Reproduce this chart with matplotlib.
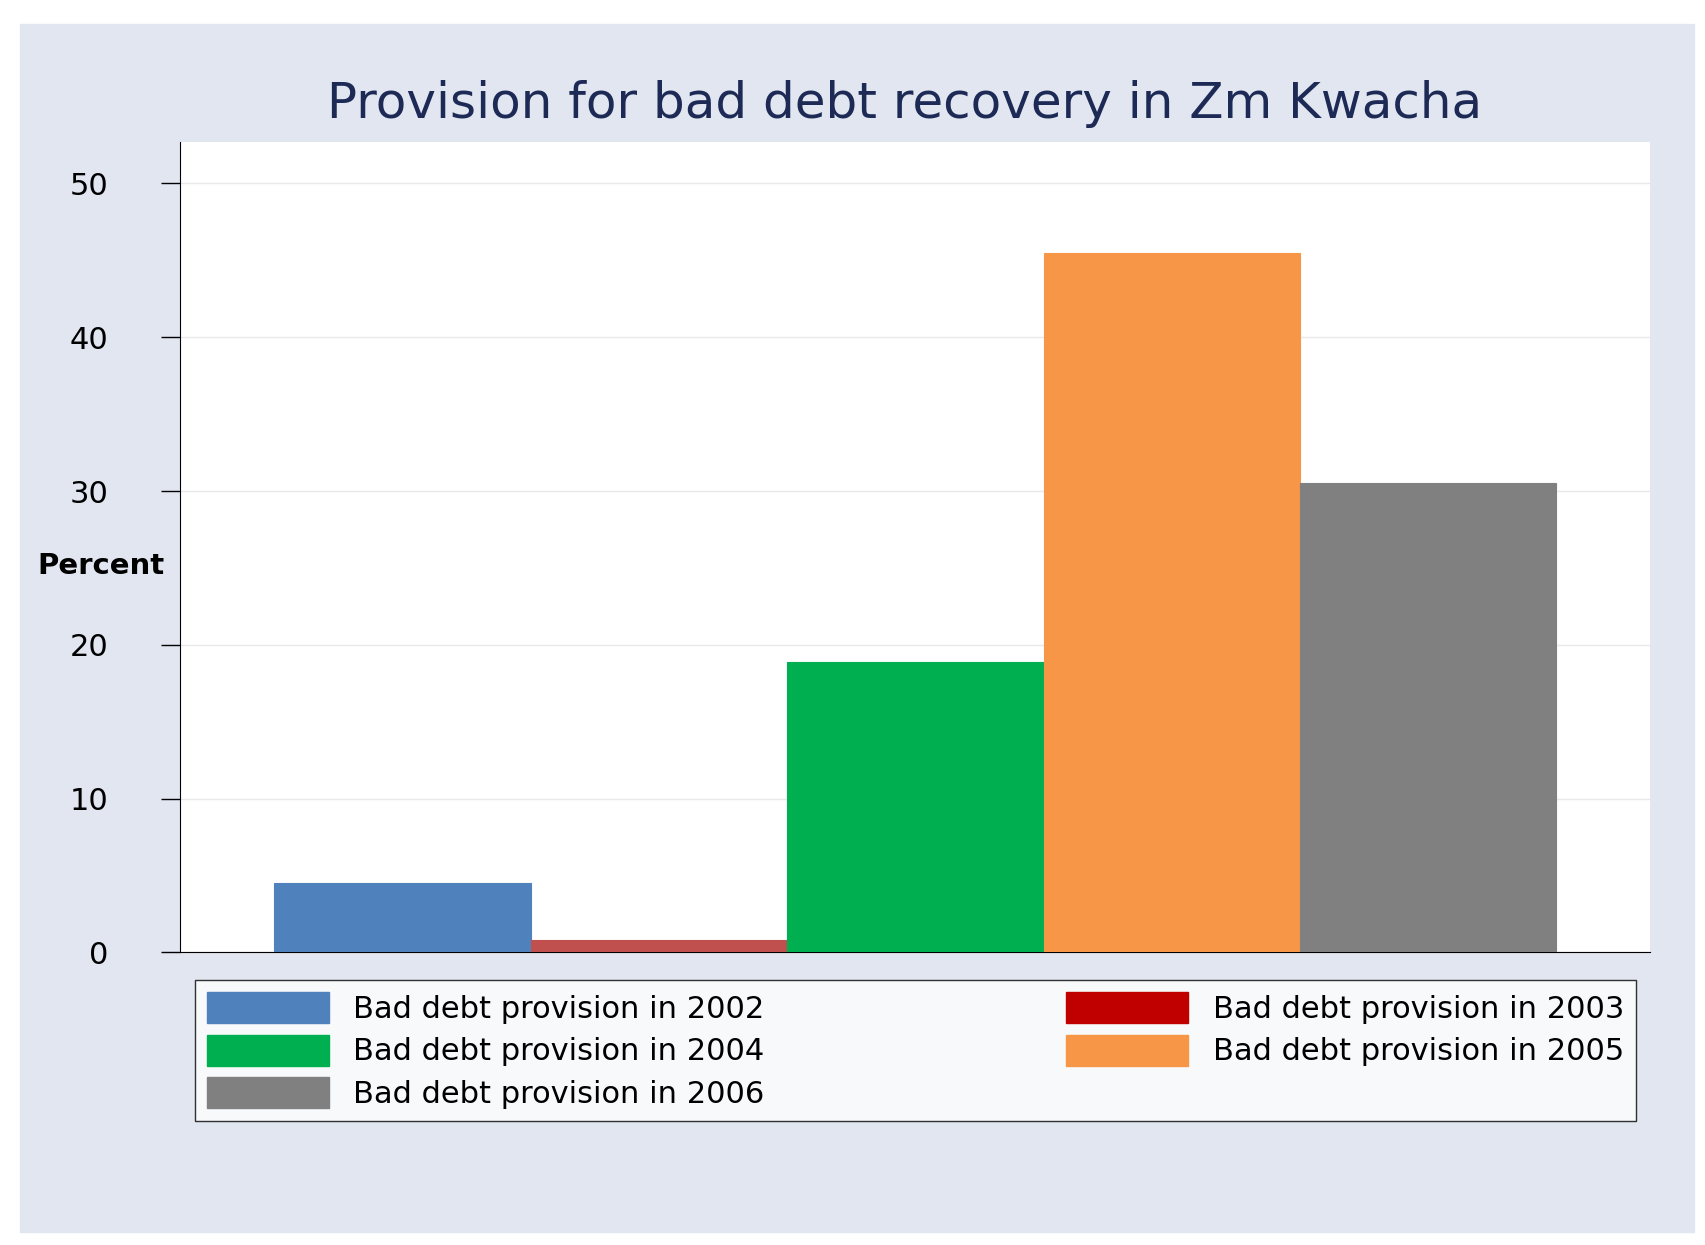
import matplotlib
matplotlib.use("Agg")
import matplotlib.pyplot as plt
from matplotlib.patches import Patch, Rectangle
import matplotlib.transforms as mtransforms

labels = ["Bad debt provision in 2002", "Bad debt provision in 2003", "Bad debt provision in 2004",
          "Bad debt provision in 2005", "Bad debt provision in 2006"]
values = [4.5, 0.8, 18.9, 45.5, 30.5]
colors = ["#4f81bd", "#c0504d", "#00b050", "#f79646", "#808080"]
legend_colors = ["#4f81bd", "#c00000", "#00b050", "#f79646", "#808080"]
yticks = [0, 10, 20, 30, 40, 50]

W, H = 1560, 1140
fig = plt.figure(figsize=(17.05, 12.45), dpi=100)
fig.patches.append(Rectangle((18/W, 1-1128/H), (1550-18)/W, (1128-22)/H,
                             transform=fig.transFigure, color="#e1e6f0", zorder=-10))
ax = fig.add_axes([165/W, 1-872/H, (1510-165)/W, (872-130)/H])
ax.set_facecolor("white")
for i, (v, c) in enumerate(zip(values, colors)):
    ax.bar(i, v, width=1.0, color=c, edgecolor=c, linewidth=0.8, zorder=3)
ax.set_xlim(-0.867, 4.867)
ax.set_ylim(0, 52.7)
ax.set_yticks(yticks)
ax.set_yticklabels([str(t) for t in yticks], fontsize=22)
offset = mtransforms.ScaledTranslation(0, -18/72, fig.dpi_scale_trans)
for lab in ax.get_yticklabels():
    lab.set_transform(lab.get_transform() + offset)
ax.tick_params(axis="y", length=14, width=1, pad=38)
ax.set_xticks([])
ax.grid(axis="y", color="#e8e8e8", linewidth=1, zorder=0)
for s in ["top", "right"]:
    ax.spines[s].set_visible(False)
ax.spines["left"].set_color("black")
ax.spines["bottom"].set_color("black")
fig.text(92/W, 1-518/H, "Percent", fontsize=21, fontweight="bold", ha="center", va="center")
fig.text(828/W, 1-95/H, "Provision for bad debt recovery in Zm Kwacha", fontsize=36,
         color="#1c2a55", ha="center", va="center")

order = [0, 2, 4, 1, 3]
handles = [Patch(facecolor=legend_colors[i], edgecolor=legend_colors[i]) for i in order]
leg = fig.legend(handles, [labels[i] for i in order], ncol=2, loc="upper left",
                 bbox_to_anchor=(178/W, 1-1075/H, (1497-178)/W, (1075-897)/H),
                 mode="expand", fontsize=22, frameon=True, fancybox=False,
                 edgecolor="black", handlelength=4.0, handleheight=1.2,
                 borderaxespad=0, labelspacing=0.35, handletextpad=0.8, borderpad=0.4)
leg.get_frame().set_linewidth(1)
fig.savefig("out.png", dpi=100, facecolor="white")
